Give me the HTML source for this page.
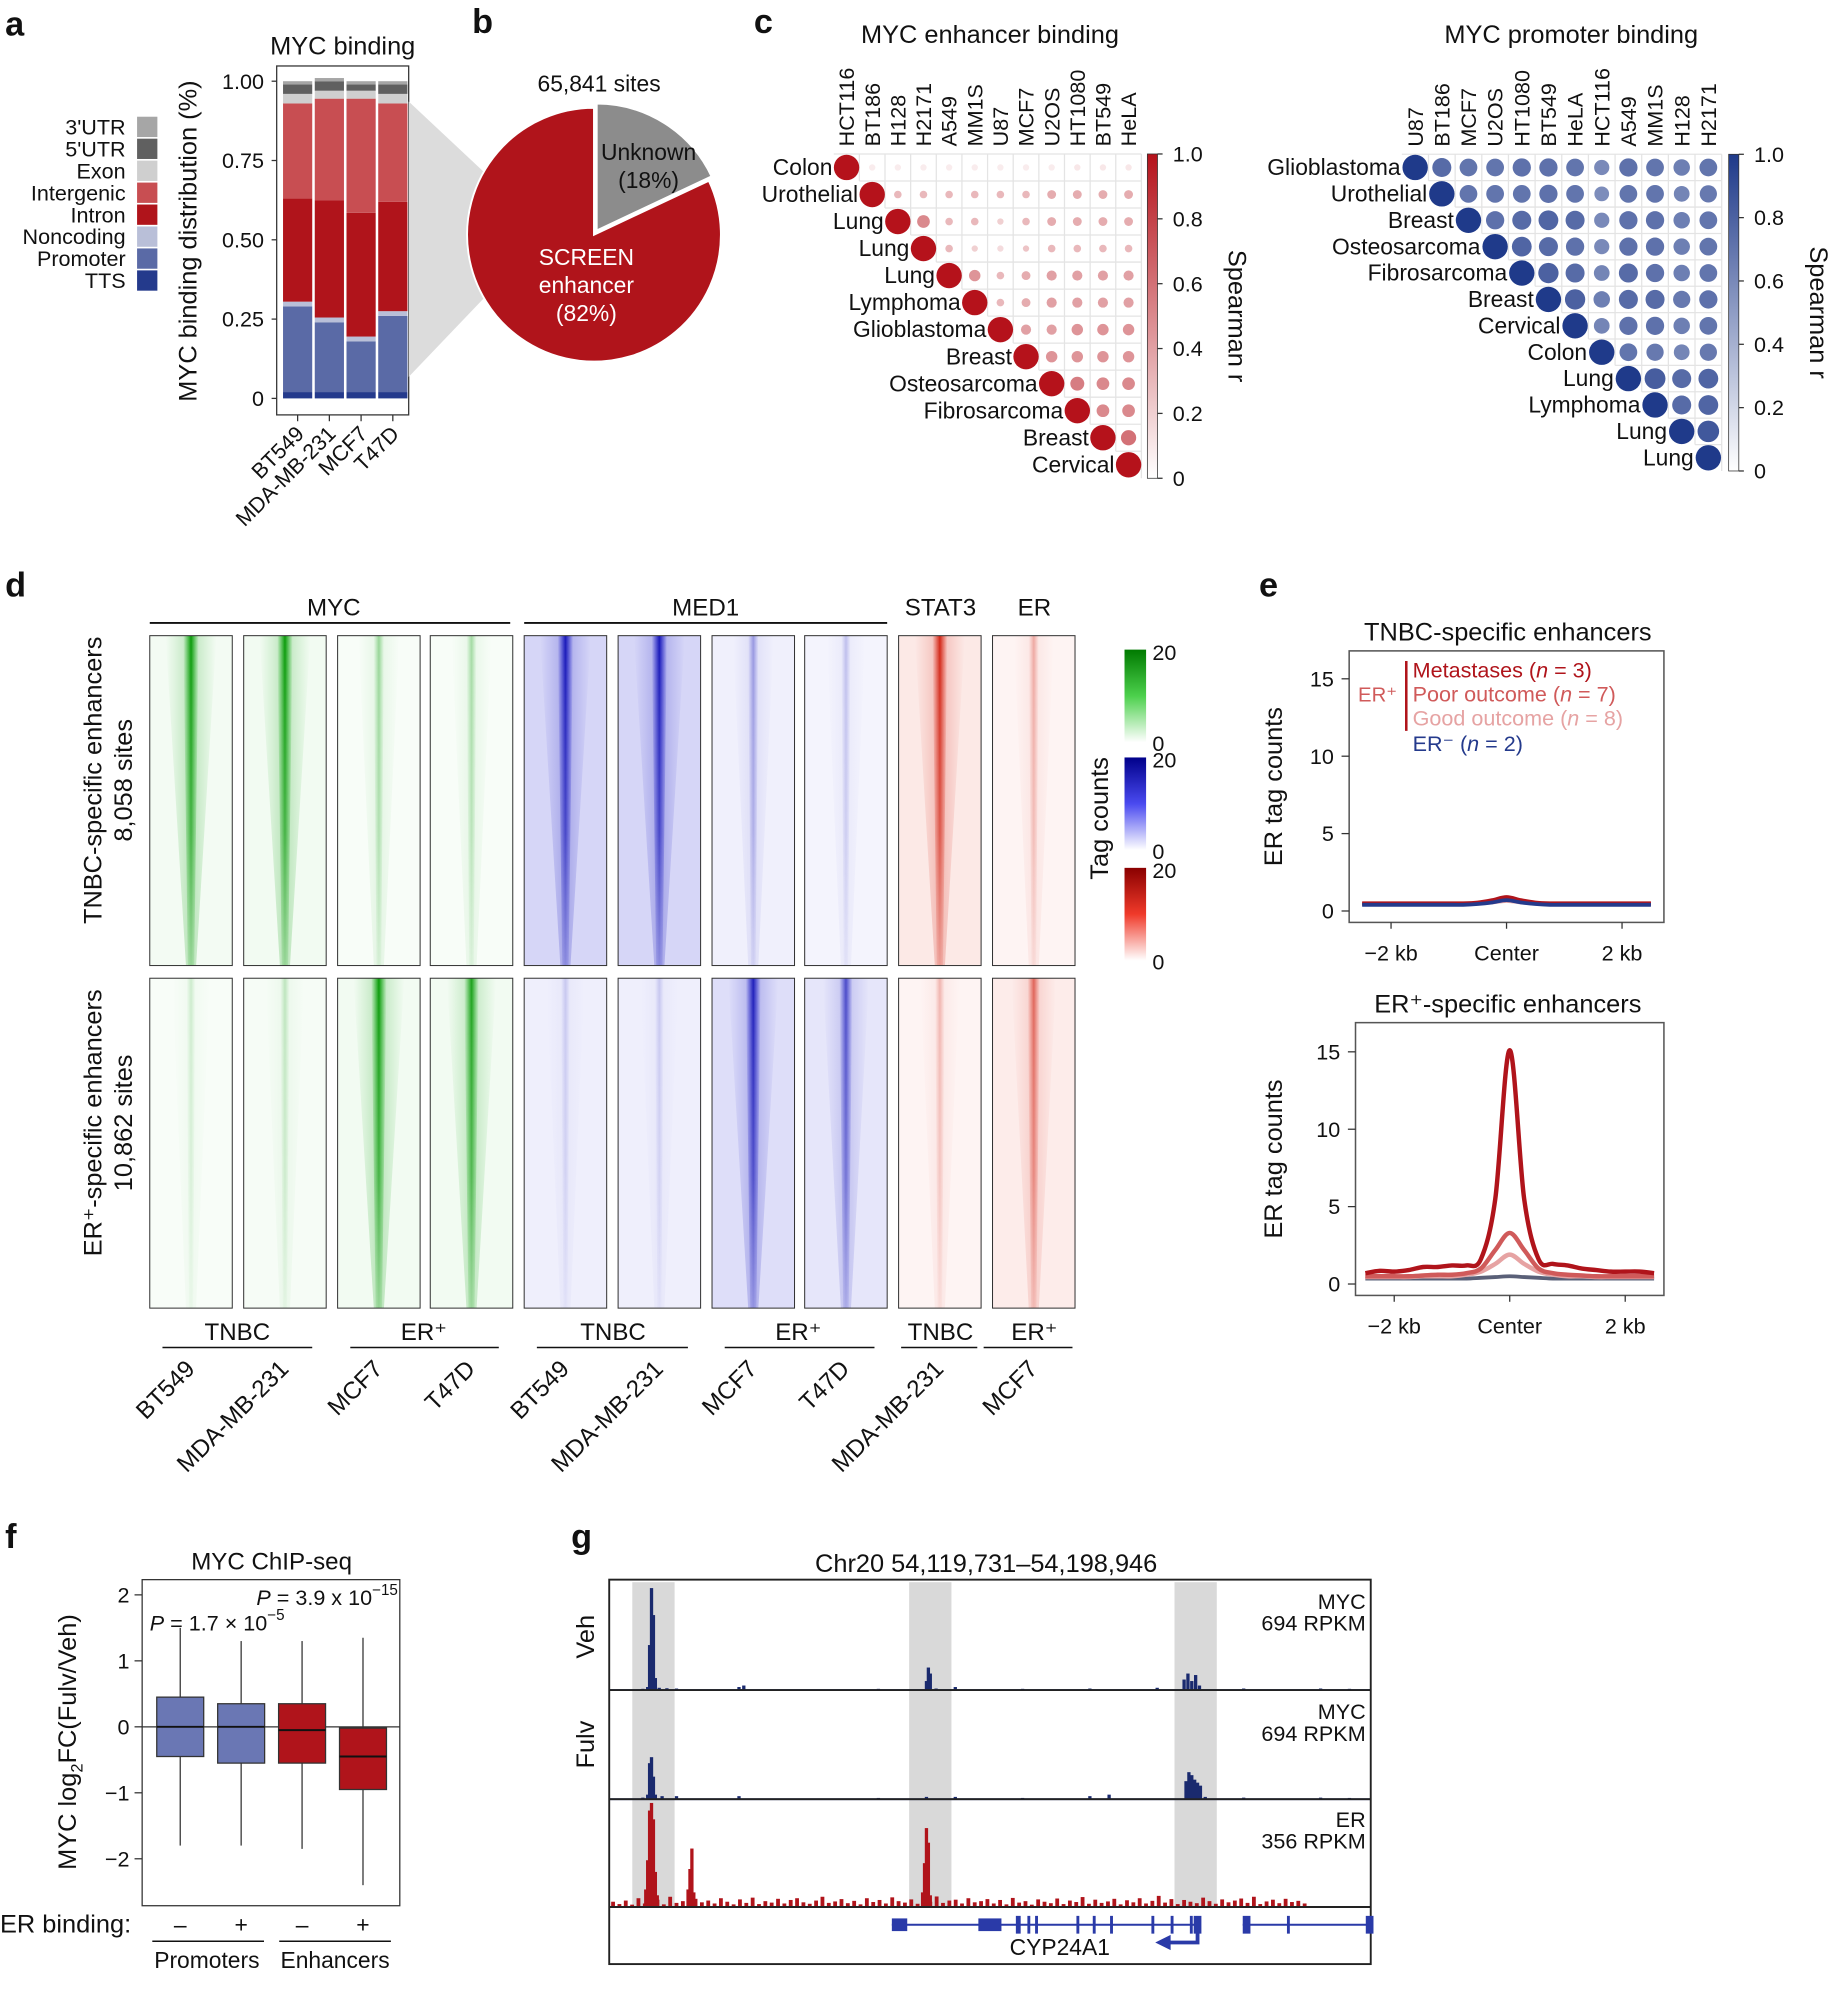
<!DOCTYPE html>
<html><head><meta charset="utf-8"><title>MYC binding figure</title>
<style>
html,body{margin:0;padding:0;background:#fff;}
svg{display:block;font-family:"Liberation Sans",sans-serif;}
</style></head>
<body>
<svg id="fig" xmlns="http://www.w3.org/2000/svg" width="1834" height="1992" viewBox="0 0 1445 1570" preserveAspectRatio="none">
<defs>
<linearGradient id="vfade" x1="0" y1="0" x2="0" y2="1"><stop offset="0" stop-color="#fff"/><stop offset="0.6" stop-color="#aaa"/><stop offset="1" stop-color="#333"/></linearGradient>
<mask id="fademask" maskContentUnits="objectBoundingBox"><rect x="0" y="0" width="1" height="1" fill="url(#vfade)"/></mask>
<linearGradient id="hg-green" x1="0" x2="1"><stop offset="0" stop-color="#1bb31b" stop-opacity="0"/><stop offset="0.5" stop-color="#0a9a0a"/><stop offset="1" stop-color="#1bb31b" stop-opacity="0"/></linearGradient>
<linearGradient id="hg-blue" x1="0" x2="1"><stop offset="0" stop-color="#2020d0" stop-opacity="0"/><stop offset="0.5" stop-color="#1818b8"/><stop offset="1" stop-color="#2020d0" stop-opacity="0"/></linearGradient>
<linearGradient id="hg-red" x1="0" x2="1"><stop offset="0" stop-color="#e03020" stop-opacity="0"/><stop offset="0.5" stop-color="#d02010"/><stop offset="1" stop-color="#e03020" stop-opacity="0"/></linearGradient>
<linearGradient id="cb-green" x1="0" y1="1" x2="0" y2="0"><stop offset="0" stop-color="#fff"/><stop offset="0.5" stop-color="#4cd04c"/><stop offset="1" stop-color="#007a00"/></linearGradient>
<linearGradient id="cb-blue" x1="0" y1="1" x2="0" y2="0"><stop offset="0" stop-color="#fff"/><stop offset="0.5" stop-color="#4a4af0"/><stop offset="1" stop-color="#00008a"/></linearGradient>
<linearGradient id="cb-red" x1="0" y1="1" x2="0" y2="0"><stop offset="0" stop-color="#fff"/><stop offset="0.5" stop-color="#f03a2a"/><stop offset="1" stop-color="#8a0000"/></linearGradient>
<linearGradient id="cb-enh" x1="0" y1="1" x2="0" y2="0"><stop offset="0" stop-color="#fff"/><stop offset="1" stop-color="#b5121b"/></linearGradient>
<linearGradient id="cb-pro" x1="0" y1="1" x2="0" y2="0"><stop offset="0" stop-color="#fff"/><stop offset="1" stop-color="#1f3a8a"/></linearGradient>
</defs>
<g id="root"></g>
</svg>
<script>
// ---------- DATA ----------
// panel a
const barCats = ['BT549','MDA-MB-231','MCF7','T47D'];
const segNames = ['TTS','Promoter','Noncoding','Intron','Intergenic','Exon','5\'UTR','3\'UTR'];
const segColors = ['#243a8c','#5a6aa6','#b9bfd8','#b0141b','#c84e52','#cfcfcf','#606060','#a6a6a6'];
const segTTS = [0.02,0.02,0.02,0.02];
const segPromoter = [0.27,0.22,0.16,0.24];
const segNoncoding = [0.015,0.015,0.015,0.015];
const segIntron = [0.325,0.37,0.39,0.345];
const segIntergenic = [0.30,0.32,0.36,0.31];
const segExon = [0.03,0.025,0.025,0.03];
const seg5UTR = [0.03,0.03,0.02,0.03];
const seg3UTR = [0.01,0.01,0.01,0.01];
const aTicks = [0,0.25,0.5,0.75,1.0];
const aTickLabels = ['0','0.25','0.50','0.75','1.00'];
// panel b
const pieLabels = ['Unknown','SCREEN enhancer'];
const pieValues = [18,82];
// panel c
const enhCols = ['HCT116','BT186','H128','H2171','A549','MM1S','U87','MCF7','U2OS','HT1080','BT549','HeLA'];
const enhRows = ['Colon','Urothelial','Lung','Lung','Lung','Lymphoma','Glioblastoma','Breast','Osteosarcoma','Fibrosarcoma','Breast','Cervical'];
const enhVals = [
 [1,.08,.08,.08,.08,.08,.08,.08,.08,.1,.1,.1],
 [1,.3,.3,.3,.3,.3,.3,.35,.35,.35,.35],
 [1,.5,.3,.3,.2,.3,.35,.35,.35,.35],
 [1,.3,.2,.15,.25,.3,.3,.3,.3],
 [1,.45,.3,.35,.4,.4,.4,.4],
 [1,.3,.35,.4,.4,.4,.4],
 [1,.4,.4,.45,.45,.45],
 [1,.45,.45,.45,.45],
 [1,.55,.5,.5],
 [1,.5,.5],
 [1,.6],
 [1]];
const proCols = ['U87','BT186','MCF7','U2OS','HT1080','BT549','HeLA','HCT116','A549','MM1S','H128','H2171'];
const proRows = ['Glioblastoma','Urothelial','Breast','Osteosarcoma','Fibrosarcoma','Breast','Cervical','Colon','Lung','Lymphoma','Lung','Lung'];
const proVals = [
 [1,.75,.7,.7,.72,.72,.7,.6,.72,.7,.65,.7],
 [1,.7,.7,.7,.72,.7,.58,.7,.7,.62,.68],
 [1,.72,.75,.78,.75,.6,.72,.72,.65,.7],
 [1,.78,.75,.72,.6,.72,.72,.65,.7],
 [1,.8,.75,.62,.75,.72,.65,.7],
 [1,.8,.65,.75,.75,.68,.72],
 [1,.62,.72,.72,.65,.7],
 [1,.7,.68,.62,.68],
 [1,.82,.75,.78],
 [1,.75,.78],
 [1,.85],
 [1]];
const cbTicks = [0,0.2,0.4,0.6,0.8,1.0];
const cbTickLabels = ['0','0.2','0.4','0.6','0.8','1.0'];
// panel d
const heatCells = ['BT549','MDA-MB-231','MCF7','T47D','BT549','MDA-MB-231','MCF7','T47D','MDA-MB-231','MCF7'];
const heatColor = ['green','green','green','green','blue','blue','blue','blue','red','red'];
const heatTop = [1.0,1.0,0.35,0.3,1.0,1.0,0.35,0.2,0.95,0.3];
const heatBottom = [0.15,0.2,1.0,0.9,0.15,0.15,0.95,0.7,0.25,0.6];
const heatBgTop = [0.05,0.06,0.03,0.03,0.2,0.2,0.07,0.05,0.12,0.06];
const heatBgBottom = [0.03,0.04,0.06,0.06,0.08,0.08,0.16,0.12,0.06,0.1];
// panel e
const eX = [-2.5,-2.25,-2,-1.75,-1.5,-1.25,-1,-0.75,-0.5,-0.25,0,0.25,0.5,0.75,1,1.25,1.5,1.75,2,2.25,2.5];
const tnbcMet  = [0.5,0.5,0.5,0.5,0.5,0.5,0.5,0.5,0.55,0.7,0.9,0.7,0.55,0.5,0.5,0.5,0.5,0.5,0.5,0.5,0.5];
const tnbcPoor = [0.45,0.45,0.45,0.45,0.45,0.45,0.45,0.45,0.5,0.6,0.75,0.6,0.5,0.45,0.45,0.45,0.45,0.45,0.45,0.45,0.45];
const tnbcGood = [0.45,0.45,0.45,0.45,0.45,0.45,0.45,0.45,0.5,0.55,0.65,0.55,0.5,0.45,0.45,0.45,0.45,0.45,0.45,0.45,0.45];
const tnbcNeg  = [0.4,0.4,0.4,0.4,0.4,0.4,0.4,0.4,0.45,0.55,0.7,0.55,0.45,0.4,0.4,0.4,0.4,0.4,0.4,0.4,0.4];
const erMet  = [0.7,0.85,0.8,0.9,1.1,1.1,1.2,1.2,1.6,5.5,15.1,5.5,1.6,1.3,1.2,1.0,0.9,0.8,0.8,0.8,0.7];
const erPoor = [0.5,0.5,0.5,0.5,0.55,0.6,0.6,0.7,1.0,2.2,3.3,2.2,1.0,0.7,0.6,0.55,0.5,0.5,0.5,0.5,0.5];
const erGood = [0.45,0.45,0.45,0.45,0.5,0.5,0.5,0.6,0.8,1.3,1.9,1.3,0.8,0.6,0.5,0.5,0.45,0.45,0.45,0.45,0.45];
const erNeg  = [0.35,0.35,0.35,0.35,0.35,0.35,0.35,0.35,0.4,0.45,0.5,0.45,0.4,0.35,0.35,0.35,0.35,0.35,0.35,0.35,0.35];
const eYTicks = [0,5,10,15];
const eXTicks = [-2,0,2];
const eXTickLabels = ['\u22122 kb','Center','2 kb'];
// panel f
const fCats = ['Promoters ER-','Promoters ER+','Enhancers ER-','Enhancers ER+'];
const fWhiskLo = [-1.8,-1.8,-1.85,-2.4];
const fQ1 = [-0.45,-0.55,-0.55,-0.95];
const fMed = [0,0,-0.05,-0.45];
const fQ3 = [0.45,0.35,0.35,-0.02];
const fWhiskHi = [1.5,1.3,1.3,1.35];
const fColors = ['#6a77b4','#6a77b4','#b0141b','#b0141b'];
const fTicks = [-2,-1,0,1,2];
// panel g (kb from region start, RPKM)
const vehPos = [3.5,4.0,4.2,4.4,4.6,4.8,5.2,6.0,7.0,13.5,14.0,28,33.0,33.2,33.4,34,36,43,50,57,59.8,60.2,60.6,61.0,61.4,66,74,77];
const vehVal = [8,20,300,680,500,80,15,12,10,20,30,8,60,150,110,10,20,8,10,15,70,110,60,100,30,10,10,8];
const fulPos = [3.5,4.0,4.2,4.4,4.6,4.8,5.5,7.0,13.5,28,33,36,43,50,52,60.0,60.3,60.6,60.9,61.2,61.5,62,66,74,77];
const fulVal = [10,30,240,280,150,30,20,20,20,8,15,15,8,20,30,120,180,160,130,110,90,15,10,10,8];
const erPosPeaks = [3.8,4.0,4.2,4.4,4.6,4.8,5.0,8.2,8.4,8.6,8.8,32.6,32.8,33.0,33.2,33.4];
const erValPeaks = [60,160,330,356,300,120,40,60,130,200,50,50,150,270,220,40];
const erNoise = [18,10,22,8,30,12,15,25,9,35,14,20,11,28,16,22,12,30,18,9,26,14,32,10,20,15,28,12,24,30,16,11,22,35,14,19,27,13,21,9,30,17,24,12,33,20,15,26,11,28,18,36,14,22,25,12,30,16,20,27,
 12,24,9,31,15,20,8,26,18,13,29,10,22,17,34,11,25,14,19,28,9,23,16,30,12,21,38,15,27,10,24,18,13,32,20,11,26,16,22,29,14,35,10,19,25,13,28,17,21,12];
const exonKb = [29.4,38.4,42.3,43.5,44.3,48.6,50.3,52.1,56.4,58.4,60.4,60.8,65.9,70.5,78.7];
const exonW  = [1.6,2.4,0.5,0.3,0.3,0.3,0.3,0.3,0.3,0.3,0.3,0.8,0.8,0.3,0.8];

// ---------- HELPERS ----------
const NS='http://www.w3.org/2000/svg';
const root=document.getElementById('root');
function mk(tag,parent){const e=document.createElementNS(NS,tag);(parent||root).appendChild(e);return e;}
function txt(s,x,y,size,anchor,parent){const t=mk('text',parent);t.setAttribute('x',x);t.setAttribute('y',y);t.setAttribute('font-size',size);t.setAttribute('text-anchor',anchor||'start');t.setAttribute('fill','#111');t.textContent=s;return t;}
function ln(x1,y1,x2,y2,stroke,w,parent){const l=mk('line',parent);l.setAttribute('x1',x1);l.setAttribute('y1',y1);l.setAttribute('x2',x2);l.setAttribute('y2',y2);l.setAttribute('stroke',stroke||'#222');l.setAttribute('stroke-width',w||1);return l;}
function rc(x,y,w,h,fill,parent){const r=mk('rect',parent);r.setAttribute('x',x);r.setAttribute('y',y);r.setAttribute('width',w);r.setAttribute('height',h);r.setAttribute('fill',fill);return r;}
function lerpColor(a,b,t){const pa=[1,3,5].map(i=>parseInt(a.substr(i,2),16)),pb=[1,3,5].map(i=>parseInt(b.substr(i,2),16));return 'rgb('+pa.map((v,i)=>Math.round(v+(pb[i]-v)*t)).join(',')+')';}
function smooth(pts){let d='M'+pts[0][0]+','+pts[0][1];for(let i=0;i<pts.length-1;i++){const p0=pts[i-1]||pts[i],p1=pts[i],p2=pts[i+1],p3=pts[i+2]||p2;const c1x=p1[0]+(p2[0]-p0[0])/6,c1y=p1[1]+(p2[1]-p0[1])/6,c2x=p2[0]-(p3[0]-p1[0])/6,c2y=p2[1]-(p3[1]-p1[1])/6;d+=' C'+c1x+','+c1y+' '+c2x+','+c2y+' '+p2[0]+','+p2[1];}return d;}

// panel letters
[['a',4,28],['b',372,26],['c',594,26],['d',4,470],['e',992,470],['f',4,1220],['g',450,1220]].forEach(p=>{const t=txt(p[0],p[1],p[2],27,'start');t.setAttribute('font-weight','bold');

});

// ---------- PANEL A ----------
(function(){
const g=mk('g');


const x0=220,x1=320,yTop=52,yBot=327;
const y=v=>314-v*250;
const frame=mk('rect',g);frame.setAttribute('x',x0-2);frame.setAttribute('y',yTop);frame.setAttribute('width',x1-x0+4);frame.setAttribute('height',yBot-yTop);frame.setAttribute('fill','none');frame.setAttribute('stroke','#333');
aTicks.forEach((v,i)=>{ln(x0-6,y(v),x0-2,y(v),'#333',1,g);const t=txt(aTickLabels[i],x0-12,y(v)+6,17,'end',g);

});
const tt=txt('MYC binding',270,43,20,'middle',g);


const yl=txt('MYC binding distribution (%)',0,0,20,'middle',g);yl.setAttribute('transform','translate(155,190) rotate(-90)');


const segs=[segTTS,segPromoter,segNoncoding,segIntron,segIntergenic,segExon,seg5UTR,seg3UTR];
const bw=23,step=25;
barCats.forEach((c,i)=>{let acc=0;const bx=x0+3+i*step;
 segs.forEach((s,k)=>{const v=s[i];const r=rc(bx,y(acc+v),bw,v*250,segColors[k],g);
 
 acc+=v;});
 ln(bx+bw/2,yBot,bx+bw/2,yBot+5,'#333',1,g);
 const t=txt(c,0,0,17,'end',g);t.setAttribute('transform','translate('+(bx+bw/2+6)+','+(yBot+16)+') rotate(-45)');
 
 });
const lg=['3\'UTR','5\'UTR','Exon','Intergenic','Intron','Noncoding','Promoter','TTS'];
lg.forEach((n,i)=>{const k=segNames.indexOf(n);const yy=92+i*17.3;const r=rc(108,yy,16,16,segColors[k],g);


const t=txt(n,99,yy+14,17,'end',g);

});
const poly=mk('polygon',g);poly.setAttribute('points','322,80 386,140 386,230 322,297');poly.setAttribute('fill','#dcdcdc');


})();

// ---------- PANEL B ----------
(function(){
const g=mk('g');


const cx=468,cy=185,r=100;const tot=pieValues.reduce((a,b)=>a+b,0);
let a0=-Math.PI/2;
pieValues.forEach((v,i)=>{const a1=a0+v/tot*2*Math.PI;const mid=(a0+a1)/2;const off=i===0?4:0;const ox=Math.cos(mid)*off,oy=Math.sin(mid)*off;
 const big=(a1-a0)>Math.PI?1:0;const p=mk('path',g);
 p.setAttribute('d','M'+(cx+ox)+','+(cy+oy)+' L'+(cx+ox+r*Math.cos(a0))+','+(cy+oy+r*Math.sin(a0))+' A'+r+','+r+' 0 '+big+' 1 '+(cx+ox+r*Math.cos(a1))+','+(cy+oy+r*Math.sin(a1))+' Z');
 p.setAttribute('fill',i===0?'#8c8c8c':'#b0141b');p.setAttribute('stroke','#fff');p.setAttribute('stroke-width',1.5);
 
 
 a0=a1;});
const t1=txt('65,841 sites',472,72,18,'middle',g);


[['Unknown',511,126,'#111'],['('+pieValues[0]+'%)',511,148,'#111'],['SCREEN',462,209,'#fff'],['enhancer',462,231,'#fff'],['('+pieValues[1]+'%)',462,253,'#fff']].forEach(a=>{const t=txt(a[0],a[1],a[2],18,'middle',g);t.setAttribute('fill',a[3]);

});
})();

// ---------- PANEL C ----------
function corrPlot(cols,rows,vals,x0,y0,dx,dy,color,minR,name,cbx,cbGrad,title,tx){
 const g=mk('g');
 
 
 const n=cols.length;
 const t=txt(title,tx,34,20,'middle',g);
 
 
 for(let i=0;i<n;i++){
  ln(x0+i*dx-dx/2,y0+i*dy-dy/2,x0+(n-1)*dx+dx/2,y0+i*dy-dy/2,'#e4e4e4',1,g);
  ln(x0+i*dx+dx/2,y0-dy/2,x0+i*dx+dx/2,y0+i*dy+dy/2,'#e4e4e4',1,g);
 }
 cols.forEach((c,j)=>{const t=txt(c,0,0,17,'start',g);t.setAttribute('transform','translate('+(x0+j*dx+6)+','+(y0-dy/2-6)+') rotate(-90)');
 
 });
 rows.forEach((rn,i)=>{const t=txt(rn,x0+i*dx-dx/2-1,y0+i*dy+6,18,'end',g);
  
  
  vals[i].forEach((v,k)=>{const j=i+k;const c=mk('circle',g);c.setAttribute('cx',x0+j*dx);c.setAttribute('cy',y0+i*dy);
   c.setAttribute('r',Math.max(minR,v*10));c.setAttribute('fill',lerpColor('#ffffff',color,v));
   
   });});
 const cbTop=y0-dy/2,cbH=(n)*dy;
 const cb=rc(cbx,cbTop,8,cbH,cbGrad,g);cb.setAttribute('stroke','#333');cb.setAttribute('stroke-width',0.6);
 
 
 cbTicks.forEach((v,i)=>{const yy=cbTop+cbH-v*cbH;ln(cbx+8,yy,cbx+12,yy,'#333',1,g);const t=txt(cbTickLabels[i],cbx+20,yy+6,17,'start',g);
 
 });
 const st=txt('Spearman r',0,0,20,'middle',g);st.setAttribute('transform','translate('+(cbx+64)+','+(cbTop+cbH/2)+') rotate(90)');
 
 
}
corrPlot(enhCols,enhRows,enhVals,667,132,20.2,21.3,'#b5121b',2.5,'panel-c-enhancer-corr',904,'url(#cb-enh)','MYC enhancer binding',780);
corrPlot(proCols,proRows,proVals,1115,132,21,20.8,'#1f3a8a',2.5,'panel-c-promoter-corr',1362,'url(#cb-pro)','MYC promoter binding',1238);

// ---------- PANEL D ----------
(function(){
const g=mk('g');


const xs=[118,192,266,339,413,487,561,634,708,782];const w=65;
const base={green:'#1bb31b',blue:'#3030d8',red:'#e84830'};
function cell(x,y,h,color,inten,bg,label){
 const cg=mk('g',g);
 
 
 const b=rc(x,y,w,h,base[color],cg);b.setAttribute('fill-opacity',bg);
 const cx=x+w/2;
 const halo=mk('polygon',cg);const hw=14+6*inten;
 halo.setAttribute('points',(cx-hw)+','+y+' '+(cx+hw)+','+y+' '+(cx+4)+','+(y+h)+' '+(cx-4)+','+(y+h));
 halo.setAttribute('fill','url(#hg-'+color+')');halo.setAttribute('opacity',inten*0.25);
 const p=mk('polygon',cg);const wt=3+3*inten,wb=1.5+inten;
 p.setAttribute('points',(cx-wt)+','+y+' '+(cx+wt)+','+y+' '+(cx+wb)+','+(y+h)+' '+(cx-wb)+','+(y+h));
 p.setAttribute('fill','url(#hg-'+color+')');p.setAttribute('opacity',inten);p.setAttribute('mask','url(#fademask)');
 const f=rc(x,y,w,h,'none',cg);f.setAttribute('stroke','#333');f.setAttribute('stroke-width',0.8);
}
xs.forEach((x,i)=>{cell(x,501,260,heatColor[i],heatTop[i],heatBgTop[i],'tnbc-'+heatCells[i]);cell(x,771,260,heatColor[i],heatBottom[i],heatBgBottom[i],'erpos-'+heatCells[i]);
 const t=txt(heatCells[i],0,0,19,'end',g);t.setAttribute('transform','translate('+(x+w/2+4)+',1080) rotate(-45)');
 
 });
[['MYC',118,402,263],['MED1',413,699,556]].forEach(a=>{ln(a[1],491,a[2],491,'#111',1.5,g);const t=txt(a[0],a[3],485,19,'middle',g);
 
 });
[['STAT3',741],['ER',815]].forEach(a=>{const t=txt(a[0],a[1],485,19,'middle',g);
 
 });
[['TNBC',128,246,187],['ER\u207A',276,393,334],['TNBC',423,542,483],['ER\u207A',571,689,629],['TNBC',710,770,741],['ER\u207A',775,845,815]].forEach(a=>{ln(a[1],1062,a[2],1062,'#111',1.2,g);const t=txt(a[0],a[3],1056,19,'middle',g);
 
 });
[['TNBC-specific enhancers',80,615],['8,058 sites',104,615],['ER\u207A-specific enhancers',80,885],['10,862 sites',104,885]].forEach(a=>{const t=txt(a[0],0,0,20,'middle',g);t.setAttribute('transform','translate('+a[1]+','+a[2]+') rotate(-90)');
 
 });
[['cb-green',512],['cb-blue',597],['cb-red',684]].forEach(a=>{const r=rc(886,a[1],17,73,'url(#'+a[0]+')',g);
 
 
 const t1=txt('20',908,a[1]+8,17,'start',g);
 
 
 const t0=txt('0',908,a[1]+80,17,'start',g);
 
 });
const tc=txt('Tag counts',0,0,20,'middle',g);tc.setAttribute('transform','translate(873,645) rotate(-90)');


})();

// ---------- PANEL E ----------
function profile(name,title,bx0,by0,bx1,by1,y0,series,colors,widths){
 const g=mk('g');
 
 
 const f=rc(bx0,by0,bx1-bx0,by1-by0,'none',g);f.setAttribute('stroke','#555');f.setAttribute('stroke-width',1.2);
 const sx=v=>(bx0+bx1)/2+v*45.5, sy=v=>y0-v*12.2;
 const t=txt(title,1188,by0-8,20,'middle',g);
 
 
 eYTicks.forEach(v=>{ln(bx0-6,sy(v),bx0,sy(v),'#333',1,g);const tl=txt(String(v),bx0-12,sy(v)+6,17,'end',g);
 
 });
 eXTicks.forEach((v,i)=>{ln(sx(v),by1,sx(v),by1+5,'#333',1,g);const tl=txt(eXTickLabels[i],sx(v),by1+30,17,'middle',g);
 
 });
 const yl=txt('ER tag counts',0,0,20,'middle',g);yl.setAttribute('transform','translate(1010,'+((by0+by1)/2)+') rotate(-90)');
 
 
 series.forEach((s,k)=>{const p=mk('path',g);p.setAttribute('d',smooth(eX.map((x,i)=>[sx(x),sy(s[i])])));p.setAttribute('fill','none');p.setAttribute('stroke',colors[k]);p.setAttribute('stroke-width',widths[k]);p.setAttribute('stroke-linejoin','round');
 
 });
}
profile('panel-e-tnbc','TNBC-specific enhancers',1063,513,1311,727,718,[tnbcGood,tnbcPoor,tnbcMet,tnbcNeg],['#e6a3a3','#d05a5a','#b0141b','#243a8c'],[3,3,3,3]);
profile('panel-e-erpos','ER\u207A-specific enhancers',1068,806,1311,1021,1012,[erNeg,erGood,erPoor,erMet],['#5a6078','#e6a3a3','#d05a5a','#b0141b'],[3,3.5,3.5,3.5]);
(function(){
const g=mk('g');


const t=txt('ER\u207A',1070,553,16,'start',g);t.setAttribute('fill','#d05a5a');


ln(1108,521,1108,576,'#b0141b',2,g);
[['Metastases (',' = 3','#b0141b',534],['Poor outcome (',' = 7','#d05a5a',553],['Good outcome (',' = 8','#e6a3a3',572]].forEach(a=>{const tt=txt('',1113,a[3],17,'start',g);tt.setAttribute('fill',a[2]);
 
 
 const s1=mk('tspan',tt);s1.textContent=a[0];const s2=mk('tspan',tt);s2.setAttribute('font-style','italic');s2.textContent='n';const s3=mk('tspan',tt);s3.textContent=a[1]+')';});
const tn=txt('',1113,592,17,'start',g);tn.setAttribute('fill','#243a8c');


const a1=mk('tspan',tn);a1.textContent='ER\u207B (';const a2=mk('tspan',tn);a2.setAttribute('font-style','italic');a2.textContent='n';const a3=mk('tspan',tn);a3.textContent=' = 2)';
})();

// ---------- PANEL F ----------
(function(){
const g=mk('g');


const x0=112,x1=315,y0=1245,y1=1502;const sy=v=>1361-v*52;
const f=rc(x0,y0,x1-x0,y1-y0,'none',g);f.setAttribute('stroke','#333');
const t=txt('MYC ChIP-seq',214,1237,19,'middle',g);


fTicks.forEach(v=>{ln(x0-6,sy(v),x0,sy(v),'#333',1,g);const tl=txt(v<0?'\u2212'+(-v):String(v),x0-10,sy(v)+6,17,'end',g);

});
ln(x0,sy(0),x1,sy(0),'#333',1,g);
const yl=txt('',0,0,20,'middle',g);yl.setAttribute('transform','translate(60,1373) rotate(-90)');


const p1=mk('tspan',yl);p1.textContent='MYC log';const p2=mk('tspan',yl);p2.setAttribute('font-size',13);p2.setAttribute('dy',5);p2.textContent='2';const p3=mk('tspan',yl);p3.setAttribute('dy',-5);p3.textContent='FC(Fulv/Veh)';
const cx=[142,190,238,286];const bw=37;
fCats.forEach((c,i)=>{const bg=mk('g',g);
 
 
 ln(cx[i],sy(fWhiskLo[i]),cx[i],sy(fQ1[i]),'#333',1,bg);ln(cx[i],sy(fQ3[i]),cx[i],sy(fWhiskHi[i]),'#333',1,bg);
 const r=rc(cx[i]-bw/2,sy(fQ3[i]),bw,sy(fQ1[i])-sy(fQ3[i]),fColors[i],bg);r.setAttribute('stroke','#333');
 ln(cx[i]-bw/2,sy(fMed[i]),cx[i]+bw/2,sy(fMed[i]),'#111',1.5,bg);
 const s=txt(i%2===0?'\u2013':'+',cx[i],1523,18,'middle',g);
 
 });
const pa=txt('',118,1285,17,'start',g);


let s=mk('tspan',pa);s.setAttribute('font-style','italic');s.textContent='P';s=mk('tspan',pa);s.textContent=' = 1.7 \u00D7 10';s=mk('tspan',pa);s.setAttribute('font-size',12);s.setAttribute('dy',-8);s.textContent='\u22125';
const pb=txt('',202,1265,17,'start',g);


s=mk('tspan',pb);s.setAttribute('font-style','italic');s.textContent='P';s=mk('tspan',pb);s.textContent=' = 3.9 x 10';s=mk('tspan',pb);s.setAttribute('font-size',12);s.setAttribute('dy',-8);s.textContent='\u221215';
const eb=txt('ER binding:',0,1523,20,'start',g);


[['Promoters',120,208,163],['Enhancers',220,308,264]].forEach(a=>{ln(a[1],1530,a[2],1530,'#111',1.2,g);const t=txt(a[0],a[3],1551,18,'middle',g);
 
 });
})();

// ---------- PANEL G ----------
(function(){
const g=mk('g');


const x0=480,x1=1080,span=79.215;const sx=kb=>x0+kb/span*(x1-x0);
const t=txt('Chr20 54,119,731\u201354,198,946',777,1239,20,'middle',g);


[[2.4,6.8],[31.2,35.6],[58.8,63.2]].forEach(a=>{const r=rc(sx(a[0]),1247,sx(a[1])-sx(a[0]),256,'#d9d9d9',g);
 
 });
function track(pos,val,base,h,maxv,color,name,bw){const tg=mk('g',g);
 
 
 pos.forEach((p,i)=>{const hh=val[i]/maxv*h;rc(sx(p)-bw/2,base-hh,bw,hh,color,tg);});
 ln(x0,base,x1,base,color,1.5,tg);}
track(vehPos,vehVal,1332,82,694,'#1a2a6e','track-veh-myc',2.6);
track(fulPos,fulVal,1418,82,694,'#1a2a6e','track-fulv-myc',2.6);
const noisePos=erNoise.map((v,i)=>0.4+i*0.66);
track(noisePos,erNoise,1503,82,356,'#b0141b','track-er-background',3);
track(erPosPeaks,erValPeaks,1503,82,356,'#b0141b','track-er-peaks',2.6);
const f=rc(x0,1245,x1-x0,303,'none',g);f.setAttribute('stroke','#222');f.setAttribute('stroke-width',1.5);
ln(x0,1332,x1,1332,'#222',1.5,g);ln(x0,1418,x1,1418,'#222',1.5,g);ln(x0,1503,x1,1503,'#222',1.5,g);
[['MYC',1268],['694 RPKM',1285],['MYC',1355],['694 RPKM',1372],['ER',1440],['356 RPKM',1457]].forEach(a=>{const tt=txt(a[0],1076,a[1],17,'end',g);
 
 });
[['Veh',1290],['Fulv',1375]].forEach(a=>{const tt=txt(a[0],0,0,20,'middle',g);tt.setAttribute('transform','translate(468,'+a[1]+') rotate(-90)');
 
 });
const gm=mk('g',g);


ln(sx(exonKb[0]),1517,sx(exonKb[11])+4,1517,'#2a3aa8',1.5,gm);ln(sx(exonKb[12]),1517,x1,1517,'#2a3aa8',1.5,gm);
exonKb.forEach((k,i)=>{const big=exonW[i]>1;rc(sx(k),big?1512:1510,Math.max(1.5,exonW[i]*7.574),big?10:14,'#2a3aa8',gm);});
const ar=mk('path',gm);ar.setAttribute('d','M'+sx(61.2)+',1522 L'+sx(61.2)+',1531 L'+sx(57.8)+',1531');ar.setAttribute('fill','none');ar.setAttribute('stroke','#2a3aa8');ar.setAttribute('stroke-width',3);
const ah=mk('polygon',gm);ah.setAttribute('points',sx(56.8)+',1531 '+sx(58.4)+',1525 '+sx(58.4)+',1537');ah.setAttribute('fill','#2a3aa8');
const gl=txt('CYP24A1',835,1541,18,'middle',g);


})();
</script>
</body></html>
